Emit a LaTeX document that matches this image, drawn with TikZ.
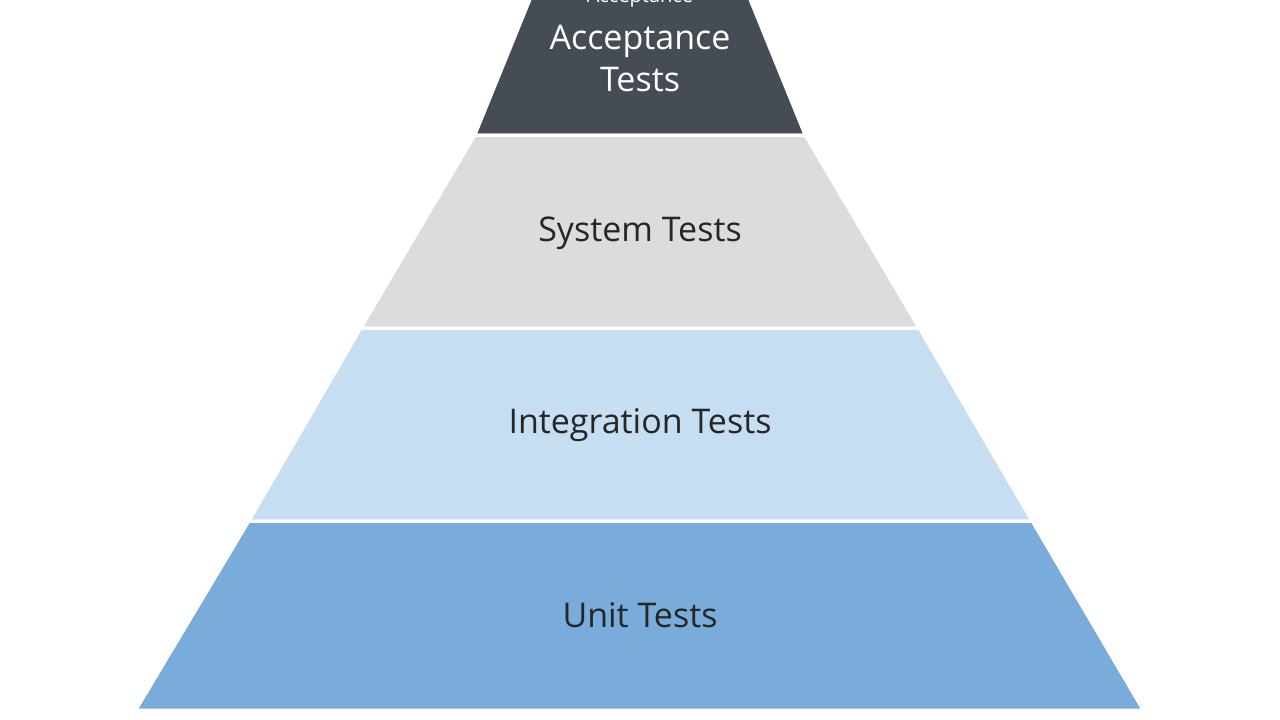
\documentclass[tikz,border=0pt]{standalone}
\usepackage{fontspec}
\setmainfont{Open Sans}
\definecolor{cTop}{HTML}{464C54}
\definecolor{cSys}{HTML}{DCDCDC}
\definecolor{cInt}{HTML}{C6DEF2}
\definecolor{cUnit}{HTML}{79ACDA}
\tikzset{tier/.style={draw=white,line width=3pt,line join=miter},
lbl/.style={font=\fontsize{34}{42}\selectfont,text=black!85,align=center}}
\begin{document}
\begin{tikzpicture}[x=1pt,y=-1pt]
\useasboundingbox (0,0) rectangle (1280,720);
\clip (0,0) rectangle (1280,720);
\fill[white] (0,0) rectangle (1280,720);
\fill[cTop,tier] (540,-25) -- (740,-25) -- (805,135) -- (475,135) -- cycle;
\fill[cSys,tier] (475,135) -- (805,135) -- (919,328) -- (361,328) -- cycle;
\fill[cInt,tier] (361,328) -- (919,328) -- (1032,521) -- (249,521) -- cycle;
\fill[cUnit,tier] (249,521) -- (1032,521) -- (1143,710) -- (136,710) -- cycle;
\draw[tier] (475,135) -- (805,135) (361,328) -- (919,328) (249,521) -- (1032,521);
\node[lbl,text=white,font=\fontsize{20}{24}\selectfont] (ghost) at (640,-2) {Acceptance};
\node[lbl,text=white] (acc) at (640,58) {Acceptance\\Tests};
\node[lbl] (sys) at (640,233) {System Tests};
\node[lbl] (int) at (640,425) {Integration Tests};
\node[lbl] (unit) at (640,615) {Unit Tests};
\end{tikzpicture}
\end{document}
